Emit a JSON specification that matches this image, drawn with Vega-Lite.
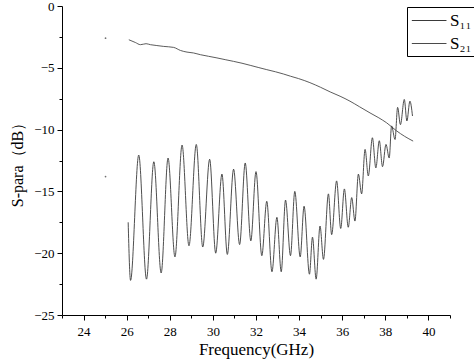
{
  "$schema": "https://vega.github.io/schema/vega-lite/v6.json",
  "width": 388,
  "height": 309,
  "autosize": {"type": "none"},
  "padding": {"left": 62, "top": 6, "right": 24, "bottom": 48},
  "background": "white",
  "config": {
    "view": {"stroke": null},
    "font": "Liberation Serif"
  },
  "data": {
    "values": [
      {"s": "S₂₁", "seg": "iso21", "f": 25.02, "db": -2.6},
      {"s": "S₁₁", "seg": "iso11", "f": 25.02, "db": -13.8},
      {"s": "S₂₁", "seg": "a", "f": 26.1, "db": -2.73},
      {"s": "S₂₁", "seg": "a", "f": 26.4, "db": -2.95},
      {"s": "S₂₁", "seg": "a", "f": 26.64, "db": -3.13},
      {"s": "S₂₁", "seg": "a", "f": 26.9, "db": -3.05},
      {"s": "S₂₁", "seg": "a", "f": 27.1, "db": -3.13},
      {"s": "S₂₁", "seg": "a", "f": 27.4, "db": -3.2},
      {"s": "S₂₁", "seg": "a", "f": 27.72, "db": -3.27},
      {"s": "S₂₁", "seg": "a", "f": 28.18, "db": -3.35},
      {"s": "S₂₁", "seg": "a", "f": 28.5, "db": -3.6},
      {"s": "S₂₁", "seg": "a", "f": 28.8, "db": -3.73},
      {"s": "S₂₁", "seg": "a", "f": 29.1, "db": -3.8},
      {"s": "S₂₁", "seg": "a", "f": 29.42, "db": -3.94},
      {"s": "S₂₁", "seg": "a", "f": 29.8, "db": -4.07},
      {"s": "S₂₁", "seg": "a", "f": 30.19, "db": -4.2},
      {"s": "S₂₁", "seg": "a", "f": 30.6, "db": -4.35},
      {"s": "S₂₁", "seg": "a", "f": 30.96, "db": -4.48},
      {"s": "S₂₁", "seg": "a", "f": 31.35, "db": -4.63},
      {"s": "S₂₁", "seg": "a", "f": 31.73, "db": -4.8},
      {"s": "S₂₁", "seg": "a", "f": 32.1, "db": -4.97},
      {"s": "S₂₁", "seg": "a", "f": 32.5, "db": -5.15},
      {"s": "S₂₁", "seg": "a", "f": 32.9, "db": -5.32},
      {"s": "S₂₁", "seg": "a", "f": 33.27, "db": -5.5},
      {"s": "S₂₁", "seg": "a", "f": 33.6, "db": -5.68},
      {"s": "S₂₁", "seg": "a", "f": 33.97, "db": -5.87},
      {"s": "S₂₁", "seg": "a", "f": 34.5, "db": -6.2},
      {"s": "S₂₁", "seg": "a", "f": 35.0, "db": -6.58},
      {"s": "S₂₁", "seg": "a", "f": 35.44, "db": -6.95},
      {"s": "S₂₁", "seg": "a", "f": 35.9, "db": -7.3},
      {"s": "S₂₁", "seg": "a", "f": 36.36, "db": -7.7},
      {"s": "S₂₁", "seg": "a", "f": 36.8, "db": -8.15},
      {"s": "S₂₁", "seg": "a", "f": 37.29, "db": -8.65},
      {"s": "S₂₁", "seg": "a", "f": 37.7, "db": -9.05},
      {"s": "S₂₁", "seg": "a", "f": 38.06, "db": -9.45},
      {"s": "S₂₁", "seg": "a", "f": 38.52, "db": -10.1},
      {"s": "S₂₁", "seg": "a", "f": 38.9, "db": -10.55},
      {"s": "S₂₁", "seg": "a", "f": 39.29, "db": -10.93},
      {"s": "S₁₁", "seg": "b", "f": 26.07, "db": -17.5},
      {"s": "S₁₁", "seg": "b", "f": 26.18, "db": -22.2},
      {"s": "S₁₁", "seg": "b", "f": 26.56, "db": -12.06},
      {"s": "S₁₁", "seg": "b", "f": 26.92, "db": -22.1},
      {"s": "S₁₁", "seg": "b", "f": 27.26, "db": -12.6},
      {"s": "S₁₁", "seg": "b", "f": 27.6, "db": -21.6},
      {"s": "S₁₁", "seg": "b", "f": 27.92, "db": -12.3},
      {"s": "S₁₁", "seg": "b", "f": 28.24, "db": -20.3},
      {"s": "S₁₁", "seg": "b", "f": 28.57, "db": -11.25},
      {"s": "S₁₁", "seg": "b", "f": 28.89, "db": -19.4},
      {"s": "S₁₁", "seg": "b", "f": 29.23, "db": -11.2},
      {"s": "S₁₁", "seg": "b", "f": 29.53, "db": -19.5},
      {"s": "S₁₁", "seg": "b", "f": 29.85, "db": -12.4},
      {"s": "S₁₁", "seg": "b", "f": 30.13, "db": -20.0},
      {"s": "S₁₁", "seg": "b", "f": 30.42, "db": -13.6},
      {"s": "S₁₁", "seg": "b", "f": 30.67, "db": -20.1},
      {"s": "S₁₁", "seg": "b", "f": 30.96, "db": -13.2},
      {"s": "S₁₁", "seg": "b", "f": 31.24, "db": -19.3},
      {"s": "S₁₁", "seg": "b", "f": 31.5, "db": -12.7},
      {"s": "S₁₁", "seg": "b", "f": 31.76, "db": -19.0},
      {"s": "S₁₁", "seg": "b", "f": 32.0, "db": -13.4},
      {"s": "S₁₁", "seg": "b", "f": 32.27, "db": -20.2},
      {"s": "S₁₁", "seg": "b", "f": 32.5, "db": -15.8},
      {"s": "S₁₁", "seg": "b", "f": 32.74, "db": -21.5},
      {"s": "S₁₁", "seg": "b", "f": 32.97, "db": -17.1},
      {"s": "S₁₁", "seg": "b", "f": 33.17, "db": -21.5},
      {"s": "S₁₁", "seg": "b", "f": 33.37, "db": -15.7},
      {"s": "S₁₁", "seg": "b", "f": 33.6, "db": -20.2},
      {"s": "S₁₁", "seg": "b", "f": 33.8, "db": -15.0},
      {"s": "S₁₁", "seg": "b", "f": 34.05, "db": -20.3},
      {"s": "S₁₁", "seg": "b", "f": 34.23, "db": -16.2},
      {"s": "S₁₁", "seg": "b", "f": 34.48, "db": -21.7},
      {"s": "S₁₁", "seg": "b", "f": 34.62, "db": -18.7},
      {"s": "S₁₁", "seg": "b", "f": 34.79, "db": -22.1},
      {"s": "S₁₁", "seg": "b", "f": 34.97, "db": -17.8},
      {"s": "S₁₁", "seg": "b", "f": 35.13, "db": -20.5},
      {"s": "S₁₁", "seg": "b", "f": 35.36, "db": -15.2},
      {"s": "S₁₁", "seg": "b", "f": 35.51, "db": -18.5},
      {"s": "S₁₁", "seg": "b", "f": 35.74, "db": -14.15},
      {"s": "S₁₁", "seg": "b", "f": 35.93, "db": -18.0},
      {"s": "S₁₁", "seg": "b", "f": 36.1, "db": -14.8},
      {"s": "S₁₁", "seg": "b", "f": 36.28, "db": -17.9},
      {"s": "S₁₁", "seg": "b", "f": 36.44, "db": -15.5},
      {"s": "S₁₁", "seg": "b", "f": 36.59, "db": -17.4},
      {"s": "S₁₁", "seg": "b", "f": 36.75, "db": -13.6},
      {"s": "S₁₁", "seg": "b", "f": 36.9, "db": -15.2},
      {"s": "S₁₁", "seg": "b", "f": 37.06, "db": -11.6},
      {"s": "S₁₁", "seg": "b", "f": 37.21, "db": -13.75},
      {"s": "S₁₁", "seg": "b", "f": 37.4, "db": -10.66},
      {"s": "S₁₁", "seg": "b", "f": 37.56, "db": -13.1},
      {"s": "S₁₁", "seg": "b", "f": 37.72, "db": -10.9},
      {"s": "S₁₁", "seg": "b", "f": 37.87, "db": -13.0},
      {"s": "S₁₁", "seg": "b", "f": 38.03, "db": -11.2},
      {"s": "S₁₁", "seg": "b", "f": 38.18, "db": -12.3},
      {"s": "S₁₁", "seg": "b", "f": 38.29, "db": -9.7},
      {"s": "S₁₁", "seg": "b", "f": 38.45, "db": -10.8},
      {"s": "S₁₁", "seg": "b", "f": 38.57, "db": -8.2},
      {"s": "S₁₁", "seg": "b", "f": 38.7, "db": -9.6},
      {"s": "S₁₁", "seg": "b", "f": 38.88, "db": -7.56},
      {"s": "S₁₁", "seg": "b", "f": 39.0, "db": -9.3},
      {"s": "S₁₁", "seg": "b", "f": 39.14, "db": -7.7},
      {"s": "S₁₁", "seg": "b", "f": 39.26, "db": -8.9}
    ]
  },
  "encoding": {
    "x": {
      "field": "f", "type": "quantitative",
      "scale": {"domain": [23, 41], "nice": false, "zero": false},
      "axis": {
        "title": "Frequency(GHz)",
        "values": [23, 24, 25, 26, 27, 28, 29, 30, 31, 32, 33, 34, 35, 36, 37, 38, 39, 40, 41],
        "labelExpr": "datum.value % 2 === 0 ? datum.label : ''",
        "tickSize": {"condition": {"test": "datum.value % 2 !== 0", "value": 3}, "value": 5},
        "grid": false,
        "domainColor": "#000", "tickColor": "#000",
        "labelColor": "#000", "titleColor": "#000",
        "labelFont": "Liberation Serif", "labelFontSize": 13,
        "labelPadding": 5,
        "titleFont": "Liberation Serif", "titleFontSize": 17, "titleFontWeight": "normal",
        "titlePadding": 3
      }
    },
    "y": {
      "field": "db", "type": "quantitative",
      "scale": {"domain": [-25, 0], "nice": false, "zero": false},
      "axis": {
        "title": "S-para（dB）",
        "values": [-25, -22.5, -20, -17.5, -15, -12.5, -10, -7.5, -5, -2.5, 0],
        "labelExpr": "datum.value % 5 === 0 ? datum.label : ''",
        "tickSize": {"condition": {"test": "datum.value % 5 !== 0", "value": 3}, "value": 5},
        "grid": false,
        "domainColor": "#000", "tickColor": "#000",
        "labelColor": "#000", "titleColor": "#000",
        "labelFont": "Liberation Serif", "labelFontSize": 13,
        "labelPadding": 3,
        "titleFont": "Liberation Serif", "titleFontSize": 16, "titleFontWeight": "normal",
        "titlePadding": 8
      }
    }
  },
  "layer": [
    {
      "mark": {"type": "line", "strokeWidth": 0.9, "interpolate": "monotone"},
      "encoding": {
        "detail": {"field": "seg"},
        "color": {
          "field": "s", "type": "nominal",
          "scale": {"domain": ["S₁₁", "S₂₁"], "range": ["#3a3a3a", "#4a4a4a"]},
          "legend": {
            "title": null,
            "orient": "none",
            "legendX": 345,
            "legendY": 1,
            "symbolType": "M-1,0H3",
            "symbolSize": 300,
            "symbolStrokeWidth": 1,
            "symbolStrokeColor": "#000",
            "symbolFillColor": "transparent",
            "labelFont": "Liberation Serif",
            "labelFontSize": 17,
            "labelColor": "#000",
            "labelOffset": 20,
            "rowPadding": 5,
            "strokeColor": "#000",
            "padding": 4,
            "fillColor": "white"
          }
        }
      }
    },
    {
      "transform": [{"filter": "datum.seg == 'iso21' || datum.seg == 'iso11'"}],
      "mark": {"type": "point", "filled": true, "size": 3, "color": "#333"},
      "encoding": {}
    }
  ]
}
